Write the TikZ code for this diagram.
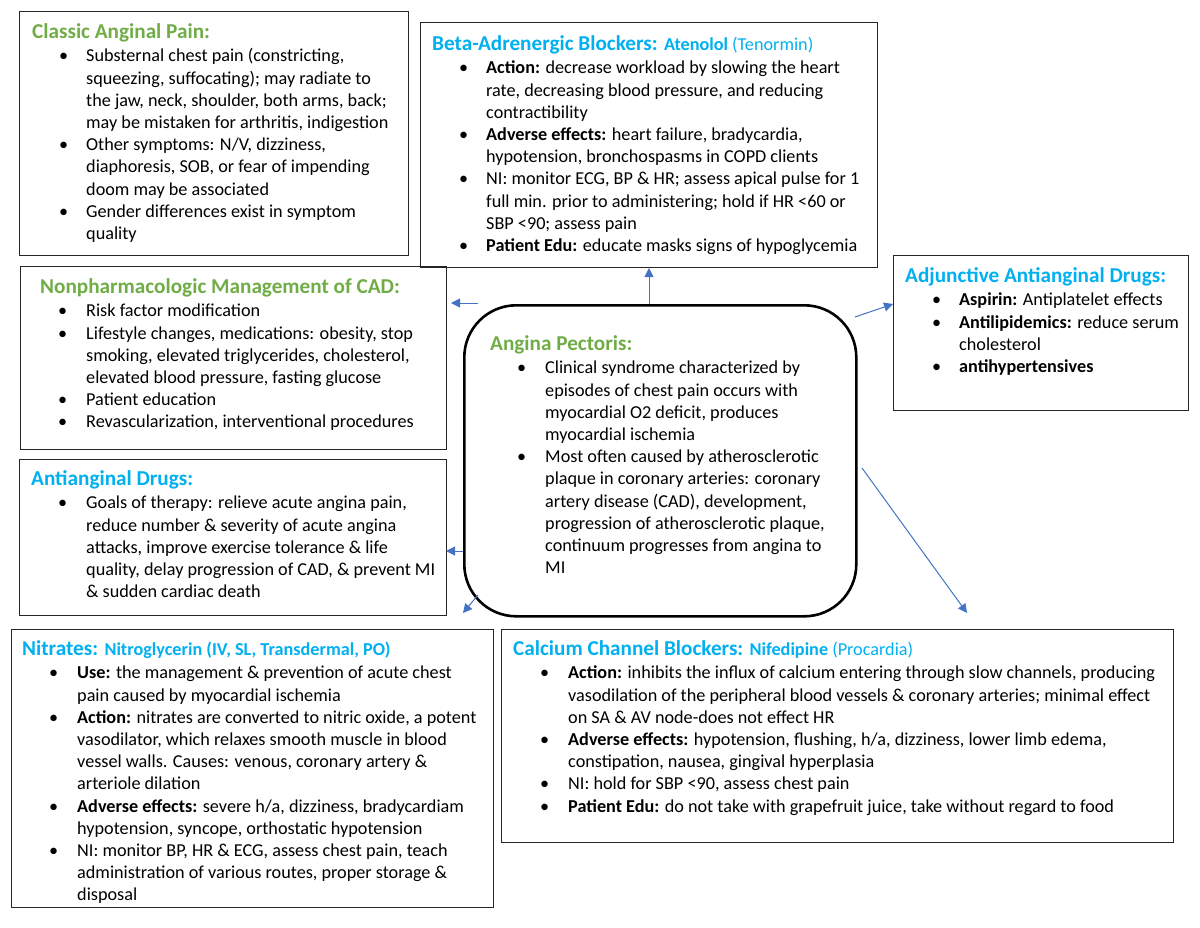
\documentclass[tikz,border=0pt]{standalone}
\usepackage{fontspec}
\setmainfont{Carlito}
\usetikzlibrary{arrows.meta,calc}
\definecolor{ogreen}{HTML}{70AD47}
\definecolor{oblue}{HTML}{00B0F0}
\definecolor{arrblue}{HTML}{4472C4}
\newlength\bulx
\newlength\txtx
\newcommand\bi{\par\hangindent=\txtx\hangafter=1\noindent\makebox[\txtx][l]{\hspace*{\bulx}\textbullet}\ignorespaces}
\newcommand\bodyfont{\fontsize{18.2}{22.2}\selectfont}
\newcommand\ttlfont{\fontsize{21.2}{22.2}\selectfont\bfseries}
\newcommand\subfont{\fontsize{18.2}{22.2}\selectfont}
\newcommand\ctext[4]{\setlength\bulx{#1}\setlength\txtx{#2}\parbox[t]{#3}{\noindent #4}}
\newcommand\aftertitle{\par\vspace{1.6pt}\bodyfont}
\tikzset{
  box/.style={draw=black!85, line width=1pt, inner sep=0pt, anchor=north west},
  roundbox/.style={draw=black, line width=2.6pt, rounded corners=52pt, inner sep=0pt, anchor=north west},
  txt/.style={inner sep=0pt, anchor=base west},
  arr/.style={draw=arrblue, line width=1pt, -{Triangle[length=9pt,width=9pt]}}
}
\begin{document}
\begin{tikzpicture}[x=1pt,y=-1pt]
\useasboundingbox (0,0) rectangle (1200,927);
\fill[white] (0,0) rectangle (1200,927);

% boxes
\node[box, minimum width=389pt, minimum height=244pt] (classic) at (19,11) {};
\node[box, minimum width=457pt, minimum height=245pt] (beta) at (420,22) {};
\node[box, minimum width=426pt, minimum height=183pt] (nonpharm) at (20,266) {};
\node[box, minimum width=427pt, minimum height=156pt] (antiang) at (19,459) {};
\node[box, minimum width=482pt, minimum height=278pt] (nitrates) at (11,629) {};
\node[box, minimum width=672pt, minimum height=213pt] (calcium) at (501,629) {};
\node[box, minimum width=295pt, minimum height=155pt] (adjunct) at (893,255) {};
\node[roundbox, minimum width=392pt, minimum height=311pt] (angina) at (463,304) {};

% texts
\node[txt] (classicT) at (32,38) {\ctext{27pt}{54pt}{370pt}{%
{\ttlfont\color{ogreen}Classic Anginal Pain:}\aftertitle
\bi Substernal chest pain (constricting,\\ squeezing, suffocating); may radiate to\\ the jaw, neck, shoulder, both arms, back;\\ may be mistaken for arthritis, indigestion
\bi Other symptoms: N/V, dizziness,\\ diaphoresis, SOB, or fear of impending\\ doom may be associated
\bi Gender differences exist in symptom\\ quality}};

\node[txt] (betaT) at (432,50) {\ctext{27pt}{54pt}{440pt}{%
{\ttlfont\color{oblue}Beta-Adrenergic Blockers: {\subfont\bfseries Atenolol \mdseries(Tenormin)}}\aftertitle
\bi \textbf{Action:} decrease workload by slowing the heart\\ rate, decreasing blood pressure, and reducing\\ contractibility
\bi \textbf{Adverse effects:} heart failure, bradycardia,\\ hypotension, bronchospasms in COPD clients
\bi NI: monitor ECG, BP \& HR; assess apical pulse for 1\\ full min. prior to administering; hold if HR <60 or\\ SBP <90; assess pain
\bi \textbf{Patient Edu:} educate masks signs of hypoglycemia}};

\node[txt] (nonpharmT) at (40,293) {\ctext{18pt}{46pt}{400pt}{%
{\ttlfont\color{ogreen}Nonpharmacologic Management of CAD:}\aftertitle
\bi Risk factor modification
\bi Lifestyle changes, medications: obesity, stop\\ smoking, elevated triglycerides, cholesterol,\\ elevated blood pressure, fasting glucose
\bi Patient education
\bi Revascularization, interventional procedures}};

\node[txt] (antiangT) at (31,485) {\ctext{27pt}{55pt}{410pt}{%
{\ttlfont\color{oblue}Antianginal Drugs:}\aftertitle
\bi Goals of therapy: relieve acute angina pain,\\ reduce number \& severity of acute angina\\ attacks, improve exercise tolerance \& life\\ quality, delay progression of CAD, \& prevent MI\\ \& sudden cardiac death}};

\node[txt] (nitratesT) at (22,655) {\ctext{27pt}{55pt}{470pt}{%
{\ttlfont\color{oblue}Nitrates: {\subfont\bfseries Nitroglycerin (IV, SL, Transdermal, PO)}}\aftertitle
\bi \textbf{Use:} the management \& prevention of acute chest\\ pain caused by myocardial ischemia
\bi \textbf{Action:} nitrates are converted to nitric oxide, a potent\\ vasodilator, which relaxes smooth muscle in blood\\ vessel walls. Causes: venous, coronary artery \&\\ arteriole dilation
\bi \textbf{Adverse effects:} severe h/a, dizziness, bradycardiam\\ hypotension, syncope, orthostatic hypotension
\bi NI: monitor BP, HR \& ECG, assess chest pain, teach\\ administration of various routes, proper storage \&\\ disposal}};

\node[txt] (calciumT) at (513,655) {\ctext{27pt}{55pt}{660pt}{%
{\ttlfont\color{oblue}Calcium Channel Blockers: {\subfont\bfseries Nifedipine \mdseries(Procardia)}}\aftertitle
\bi \textbf{Action:} inhibits the influx of calcium entering through slow channels, producing\\ vasodilation of the peripheral blood vessels \& coronary arteries; minimal effect\\ on SA \& AV node-does not effect HR
\bi \textbf{Adverse effects:} hypotension, flushing, h/a, dizziness, lower limb edema,\\ constipation, nausea, gingival hyperplasia
\bi NI: hold for SBP <90, assess chest pain
\bi \textbf{Patient Edu:} do not take with grapefruit juice, take without regard to food}};

\node[txt] (anginaT) at (490,350) {\ctext{27pt}{55pt}{350pt}{%
{\ttlfont\color{ogreen}Angina Pectoris:}\aftertitle
\bi Clinical syndrome characterized by\\ episodes of chest pain occurs with\\ myocardial O2 deficit, produces\\ myocardial ischemia
\bi Most often caused by atherosclerotic\\ plaque in coronary arteries: coronary\\ artery disease (CAD), development,\\ progression of atherosclerotic plaque,\\ continuum progresses from angina to\\ MI}};

\node[txt] (adjunctT) at (905,282) {\ctext{27pt}{54pt}{280pt}{%
{\ttlfont\color{oblue}Adjunctive Antianginal Drugs:}\aftertitle
\bi \textbf{Aspirin:} Antiplatelet effects
\bi \textbf{Antilipidemics:} reduce serum\\ cholesterol
\bi \textbf{antihypertensives}}};

% connectors
\coordinate (s1) at (478,303);
\coordinate (s3) at (855,317);
\coordinate (s5) at (478,595);
\coordinate (e5) at (463,613);
\coordinate (s6) at (862,468);
\coordinate (e6) at (967,613);
\draw[arr] (beta.south |- angina.north) -- (beta.south);
\draw[arr] (s1) -- ($(nonpharm.east |- s1)+(4,0)$);
\draw[arr] (s3) -- ($(adjunct.north west)+(0,49)$);
\draw[arr] ($(angina.north west)+(0,247)$) -- ($(antiang.north east)+(-1,92)$);
\draw[arr] (s5) -- (e5);
\draw[arr] (s6) -- (e6);
\end{tikzpicture}
\end{document}
